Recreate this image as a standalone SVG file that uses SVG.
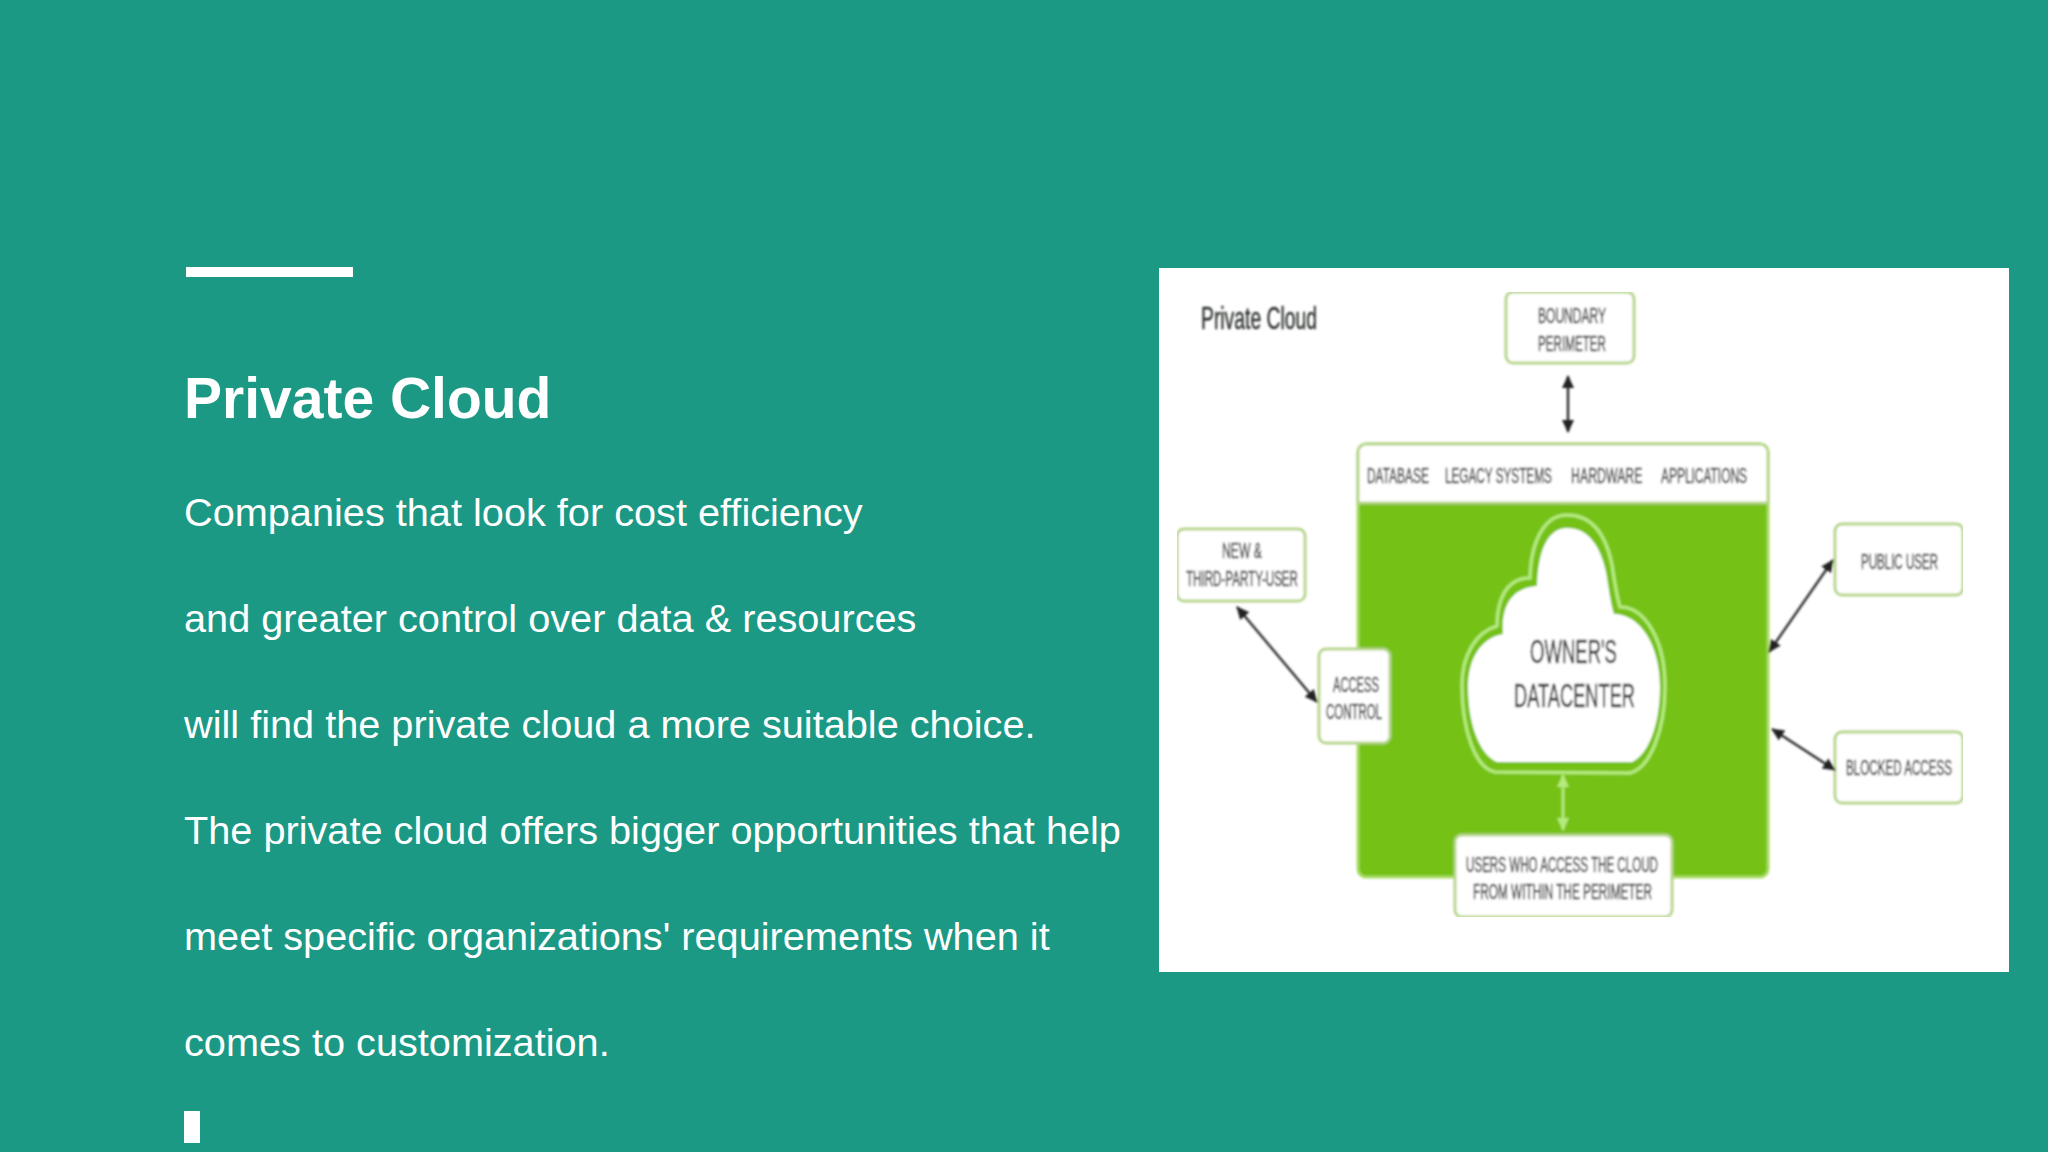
<svg xmlns="http://www.w3.org/2000/svg" width="2048" height="1152" viewBox="0 0 2048 1152">
<style>
.h{font-family:"Liberation Sans",Arial,sans-serif;font-weight:700;font-size:57px;fill:#fff}
.b{font-family:"Liberation Sans",Arial,sans-serif;font-size:39.7px;fill:#fff}
.t{font-family:"Liberation Sans",Arial,sans-serif;font-size:22px;fill:#2e322e;stroke:#2e322e;stroke-width:.45}
.m{font-size:33px}
.box{fill:#fff;stroke:#b7d68c;stroke-width:3}
.c{fill:none;stroke:#333;stroke-width:2.5}
.lc{fill:none;stroke:#b5ea7c;stroke-width:3}
</style>
<defs>
<marker id="a" markerUnits="userSpaceOnUse" markerWidth="14" markerHeight="14" refX="12" refY="7" orient="auto-start-reverse"><path d="M0 1L13 7L0 13Z" fill="#222"/></marker>
<marker id="l" markerUnits="userSpaceOnUse" markerWidth="14" markerHeight="14" refX="12" refY="7" orient="auto-start-reverse"><path d="M0 1L13 7L0 13Z" fill="#b5ea7c"/></marker>
<filter id="soft" x="0" y="0" width="1" height="1"><feGaussianBlur stdDeviation="0.8"/></filter>
</defs>
<rect width="2048" height="1152" fill="#1c9985"/>
<g id="slide-text">
<rect x="186" y="267" width="167" height="10" fill="#fff"/>
<text class="h" x="184" y="418">Private Cloud</text>
<text class="b" x="184" y="526">Companies that look for cost efficiency</text>
<text class="b" x="184" y="632">and greater control over data &amp; resources</text>
<text class="b" x="184" y="738">will find the private cloud a more suitable choice.</text>
<text class="b" x="184" y="844">The private cloud offers bigger opportunities that help</text>
<text class="b" x="184" y="950">meet specific organizations' requirements when it</text>
<text class="b" x="184" y="1056">comes to customization.</text>
<rect x="184" y="1111" width="16" height="32" fill="#fff"/>
</g>
<rect x="1159" y="268" width="850" height="704" fill="#fff"/>
<g filter="url(#soft)">
<text class="t" x="1201" y="329" style="font-size:32px" textLength="116" lengthAdjust="spacingAndGlyphs">Private Cloud</text>
<g id="perimeter">
<rect x="1358" y="444" width="410" height="433" rx="8" fill="#74c116" stroke="#a8dc62" stroke-width="3"/>
<path d="M1358 503V452a8 8 0 0 1 8-8H1760a8 8 0 0 1 8 8V503Z" class="box"/>
<text class="t" transform="translate(1367 483) scale(.543 1)">DATABASE</text>
<text class="t" transform="translate(1445 483) scale(.534 1)">LEGACY SYSTEMS</text>
<text class="t" transform="translate(1571 483) scale(.561 1)">HARDWARE</text>
<text class="t" transform="translate(1661 483) scale(.543 1)">APPLICATIONS</text>
</g>
<g id="cloud">
<path d="M1495 772C1475 768 1462 730 1462 685C1462 655 1476 632 1497 626C1497 600 1506 578 1530 578C1531 540 1545 515 1567 515C1592 515 1606 535 1612 565C1615 585 1617 598 1620 607C1645 607 1665 640 1665 687C1665 730 1650 768 1630 773Z" fill="none" stroke="#b5ea7c" stroke-width="3.5"/>
<path d="M1497 762C1480 755 1468 725 1468 687C1468 660 1480 638 1503 634C1501 608 1510 588 1537 586C1538 550 1548 528 1567 528C1588 528 1600 545 1606 572C1609 590 1611 605 1614 614C1640 614 1660 645 1660 687C1660 725 1648 755 1632 762Z" fill="#fff"/>
<text class="t m" x="1530" y="663" textLength="87" lengthAdjust="spacingAndGlyphs">OWNER'S</text>
<text class="t m" x="1514" y="707" textLength="121" lengthAdjust="spacingAndGlyphs">DATACENTER</text>
</g>
<g id="boundary"><rect class="box" x="1506" y="292" width="128" height="71" rx="7"/>
<text class="t" x="1538" y="323" textLength="68" lengthAdjust="spacingAndGlyphs">BOUNDARY</text>
<text class="t" x="1538" y="351" textLength="68" lengthAdjust="spacingAndGlyphs">PERIMETER</text></g>
<g id="new-user"><rect class="box" x="1177" y="529" width="128" height="72" rx="7"/>
<text class="t" x="1222" y="558" textLength="40" lengthAdjust="spacingAndGlyphs">NEW &amp;</text>
<text class="t" x="1186" y="586" textLength="112" lengthAdjust="spacingAndGlyphs">THIRD-PARTY-USER</text></g>
<g id="access"><rect class="box" x="1319" y="649" width="71" height="94" rx="7"/>
<text class="t" x="1333" y="692" textLength="46" lengthAdjust="spacingAndGlyphs">ACCESS</text>
<text class="t" x="1326" y="719" textLength="56" lengthAdjust="spacingAndGlyphs">CONTROL</text></g>
<g id="public"><rect class="box" x="1835" y="524" width="128" height="71" rx="7"/>
<text class="t" x="1861" y="569" textLength="77" lengthAdjust="spacingAndGlyphs">PUBLIC USER</text></g>
<g id="blocked"><rect class="box" x="1835" y="732" width="128" height="71" rx="7"/>
<text class="t" x="1846" y="775" textLength="106" lengthAdjust="spacingAndGlyphs">BLOCKED ACCESS</text></g>
<g id="users"><rect class="box" x="1455" y="835" width="217" height="82" rx="7"/>
<text class="t" x="1466" y="872" textLength="192" lengthAdjust="spacingAndGlyphs">USERS WHO ACCESS THE CLOUD</text>
<text class="t" x="1473" y="899" textLength="179" lengthAdjust="spacingAndGlyphs">FROM WITHIN THE PERIMETER</text></g>
<g id="connectors">
<path class="c" d="M1568 376V432" marker-start="url(#a)" marker-end="url(#a)"/>
<path class="c" d="M1237 607L1317 702" marker-start="url(#a)" marker-end="url(#a)"/>
<path class="c" d="M1833 560L1769 652" marker-start="url(#a)" marker-end="url(#a)"/>
<path class="c" d="M1772 729L1835 770" marker-start="url(#a)" marker-end="url(#a)"/>
<path class="lc" d="M1563 775V830" marker-start="url(#l)" marker-end="url(#l)"/>
</g>
</g>
</svg>
